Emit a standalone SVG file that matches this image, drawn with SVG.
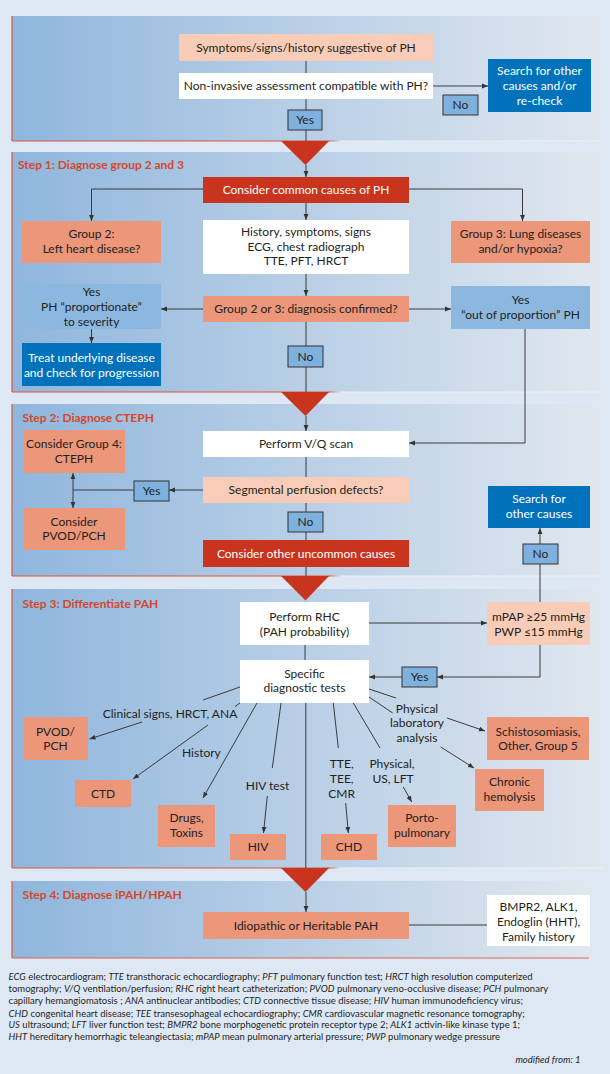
<svg xmlns="http://www.w3.org/2000/svg" width="610" height="1074" viewBox="0 0 610 1074">
<defs>
<style>
.t{font-family:Lato,"Open Sans","Liberation Sans",sans-serif;font-size:12px;fill:#231f20;text-anchor:middle}
.tw{fill:#ffffff}
.step{font-weight:bold;fill:#d4472b;text-anchor:start}
.fn{font-family:Lato,"Open Sans","Liberation Sans",sans-serif;font-size:9.5px;fill:#231f20}
.i{font-style:italic}
.peach{fill:#f8ccb6}
.salmon{fill:#ec967a}
.red{fill:#c8341e}
.blue{fill:#0072bc}
.lb{fill:#8cb8e0}
.wh{fill:#ffffff}
.yn{fill:#7fb1df;stroke:#333333;stroke-width:1}
.ln{fill:none;stroke:#3a3a3a;stroke-width:1}
.arr{marker-end:url(#ah)}
.panel{fill:url(#pg)}
.lborder{stroke:#d9573c;stroke-width:1.2;fill:none}
.bborder{stroke:url(#bg);stroke-width:1.2;fill:none}
.tri{fill:#c8341e}
</style>
<linearGradient id="pg" x1="0" y1="0" x2="1" y2="0">
<stop offset="0" stop-color="#8fb6dd"/>
<stop offset="0.5" stop-color="#b9cfe6"/>
<stop offset="1" stop-color="#e0e7ef"/>
</linearGradient>
<linearGradient id="bg" gradientUnits="userSpaceOnUse" x1="12" y1="0" x2="600" y2="0">
<stop offset="0" stop-color="#d9573c"/>
<stop offset="0.54" stop-color="#d9573c"/>
<stop offset="0.56" stop-color="#eaf0f6"/>
<stop offset="1" stop-color="#eaf0f6"/>
</linearGradient>
<marker id="ah" viewBox="0 0 10 10" refX="10" refY="5" markerWidth="6" markerHeight="6" orient="auto" markerUnits="userSpaceOnUse">
<path d="M0 1 L10 5 L0 9 z" fill="#333333"/>
</marker>
</defs>

<rect x="0" y="0" width="610" height="1074" fill="#dee8f4"/>

<g id="panels">
<rect class="panel" x="12" y="16" width="588" height="125"/>
<path class="lborder" d="M12 16 V141"/>
<path class="bborder" d="M12 141 H600"/>
<rect class="panel" x="12" y="152" width="588" height="240"/>
<path class="lborder" d="M12 152 V392"/>
<path class="bborder" d="M12 392 H600"/>
<rect class="panel" x="12" y="404" width="588" height="172"/>
<path class="lborder" d="M12 404 V576"/>
<path class="bborder" d="M12 576 H600"/>
<rect class="panel" x="12" y="589" width="591" height="279"/>
<path class="lborder" d="M12 589 V868"/>
<path class="bborder" d="M12 868 H603"/>
<rect class="panel" x="12" y="881" width="577" height="77"/>
<path class="lborder" d="M12 881 V958"/>
<path d="M12 958 H589" stroke="#d9664d" stroke-width="1.2" fill="none"/>
<text class="t step" x="18" y="168.5">Step 1: Diagnose group 2 and 3</text>
<text class="t step" x="22.6" y="422">Step 2: Diagnose CTEPH</text>
<text class="t step" x="22.6" y="608">Step 3: Differentiate PAH</text>
<text class="t step" x="22.6" y="899">Step 4: Diagnose iPAH/HPAH</text>
</g>

<g id="connectors">
<path class="ln" d="M306 61 V73"/>
<path class="ln arr" d="M433 86 H488"/>
<path class="ln" d="M306 99 V141"/>
<path class="ln arr" d="M306 165 V177"/>
<path class="ln arr" d="M203 189 H91.5 V221"/>
<path class="ln arr" d="M409 189 H522.5 V221"/>
<path class="ln arr" d="M306 203 V220"/>
<path class="ln arr" d="M306 274 V296"/>
<path class="ln arr" d="M203 309 H161"/>
<path class="ln arr" d="M409 309 H451"/>
<path class="ln arr" d="M91.5 329 V343"/>
<path class="ln" d="M306 322 V392"/>
<path class="ln arr" d="M525 329 V443 H409"/>
<path class="ln arr" d="M306 416 V431"/>
<path class="ln" d="M306 457 V477"/>
<path class="ln arr" d="M203 490 H169"/>
<path class="ln" d="M134 490 H73"/>
<path class="ln arr" d="M73 490 V473"/>
<path class="ln arr" d="M73 490 V508"/>
<path class="ln" d="M306 503 V540"/>
<path class="ln" d="M306 567 V576"/>
<path class="ln arr" d="M369 623 H487"/>
<path class="ln arr" d="M540 602 V528"/>
<path class="ln arr" d="M540 645 V677 H437"/>
<path class="ln arr" d="M402 677 H369"/>
<path class="ln" d="M305 645 V660"/>
<path class="ln" d="M305.8 703 V868"/>
<path class="ln" d="M240 687 L203 700"/>
<path class="ln arr" d="M142 722 L89.5 739"/>
<path class="ln" d="M240 703 L235 706.5"/>
<path class="ln arr" d="M208 725 L133 779"/>
<path class="ln arr" d="M257 703 L203 798"/>
<path class="ln" d="M281 703 L272.3 768"/>
<path class="ln arr" d="M267.3 796 L263.5 833"/>
<path class="ln" d="M333.3 703 L338.3 748"/>
<path class="ln arr" d="M345.7 803 L348.3 833"/>
<path class="ln" d="M353.3 703 L380 748"/>
<path class="ln arr" d="M403.3 787 L411.7 802"/>
<path class="ln" d="M369 689 L396 698"/>
<path class="ln" d="M369 697 L392.7 713"/>
<path class="ln arr" d="M447 718 L485 731"/>
<path class="ln arr" d="M440.7 747 L474 768"/>
<path class="ln arr" d="M306 892 V912"/>
<path class="ln" d="M409 925 H487"/>
</g>

<g id="arrows-between-steps">
<path class="tri" d="M281 141 H329 L305.5 165 z"/>
<path class="tri" d="M281 392 H329 L305.5 416 z"/>
<path class="tri" d="M281 576 H329 L305.5 600.5 z"/>
<path class="tri" d="M281 868 H329 L305.5 892 z"/>
</g>

<g id="n-sym"><rect class="peach" x="179" y="34" width="254" height="27"/><text class="t" x="306" y="51.5">Symptoms/signs/history suggestive of PH</text></g>
<g id="n-noninv"><rect class="wh" x="179" y="73" width="254" height="26"/><text class="t" x="306" y="90">Non-invasive assessment compatible with PH?</text></g>
<g id="n-search1"><rect class="blue" x="488" y="59" width="103" height="53"/><text class="t tw" x="539.5" y="74.5">Search for other</text><text class="t tw" x="539.5" y="89.5">causes and/or</text><text class="t tw" x="539.5" y="104.5">re-check</text></g>
<g id="n-no1"><rect class="yn" x="443" y="95" width="35" height="20"/><text class="t" x="460.5" y="109">No</text></g>
<g id="n-yes1"><rect class="yn" x="288" y="110" width="34" height="20"/><text class="t" x="305" y="124">Yes</text></g>

<g id="n-common"><rect class="red" x="203" y="177" width="206" height="26"/><text class="t tw" x="306" y="194">Consider common causes of PH</text></g>
<g id="n-g2"><rect class="salmon" x="22" y="221" width="139" height="42"/><text class="t" x="91.5" y="238">Group 2:</text><text class="t" x="91.5" y="253">Left heart disease?</text></g>
<g id="n-hist"><rect class="wh" x="203" y="220" width="206" height="54"/><text class="t" x="306" y="235.7">History, symptoms, signs</text><text class="t" x="306" y="250.7">ECG, chest radiograph</text><text class="t" x="306" y="265">TTE, PFT, HRCT</text></g>
<g id="n-g3"><rect class="salmon" x="451" y="221" width="139" height="42"/><text class="t" x="520.5" y="238">Group 3: Lung diseases</text><text class="t" x="520.5" y="253">and/or hypoxia?</text></g>
<g id="n-confirmed"><rect class="salmon" x="203" y="296" width="206" height="26"/><text class="t" x="306" y="313">Group 2 or 3: diagnosis confirmed?</text></g>
<g id="n-prop"><rect class="lb" x="22" y="284" width="139" height="45"/><text class="t" x="91.5" y="295.7">Yes</text><text class="t" x="91.5" y="310.7">PH “proportionate”</text><text class="t" x="91.5" y="325.7">to severity</text></g>
<g id="n-treat"><rect class="blue" x="22" y="343" width="139" height="43"/><text class="t tw" x="91.5" y="362.3">Treat underlying disease</text><text class="t tw" x="91.5" y="376.7">and check for progression</text></g>
<g id="n-outprop"><rect class="lb" x="451" y="286" width="139" height="43"/><text class="t" x="520.5" y="304">Yes</text><text class="t" x="520.5" y="319">“out of proportion” PH</text></g>
<g id="n-no2"><rect class="yn" x="288" y="346" width="35" height="21"/><text class="t" x="305.5" y="360.5">No</text></g>

<g id="n-vq"><rect class="wh" x="203" y="431" width="206" height="26"/><text class="t" x="306" y="448">Perform V/Q scan</text></g>
<g id="n-seg"><rect class="peach" x="203" y="477" width="206" height="26"/><text class="t" x="306" y="494">Segmental perfusion defects?</text></g>
<g id="n-yes2"><rect class="yn" x="134" y="481" width="35" height="20"/><text class="t" x="151.5" y="494.7">Yes</text></g>
<g id="n-g4"><rect class="salmon" x="23" y="430" width="102" height="43"/><text class="t" x="74" y="447.7">Consider Group 4:</text><text class="t" x="74" y="463">CTEPH</text></g>
<g id="n-pvod1"><rect class="salmon" x="23" y="508" width="102" height="42"/><text class="t" x="74" y="525.7">Consider</text><text class="t" x="74" y="539.7">PVOD/PCH</text></g>
<g id="n-no3"><rect class="yn" x="288" y="512" width="35" height="20"/><text class="t" x="305.5" y="526.3">No</text></g>
<g id="n-uncommon"><rect class="red" x="203" y="540" width="206" height="27"/><text class="t tw" x="306" y="557.7">Consider other uncommon causes</text></g>
<g id="n-search2"><rect class="blue" x="488" y="486" width="102" height="42"/><text class="t tw" x="539" y="503">Search for</text><text class="t tw" x="539" y="518">other causes</text></g>
<g id="n-no4"><rect class="yn" x="523" y="544" width="35" height="20"/><text class="t" x="540.5" y="558">No</text></g>

<g id="n-rhc"><rect class="wh" x="240" y="602" width="129" height="43"/><text class="t" x="304.5" y="620.7">Perform RHC</text><text class="t" x="304.5" y="635.7">(PAH probability)</text></g>
<g id="n-mpap"><rect class="peach" x="487" y="602" width="103" height="43"/><text class="t" x="538.5" y="620.7">mPAP ≥25 mmHg</text><text class="t" x="538.5" y="636.3">PWP ≤15 mmHg</text></g>
<g id="n-yes3"><rect class="yn" x="402" y="667" width="35" height="20"/><text class="t" x="419.5" y="681">Yes</text></g>
<g id="n-spec"><rect class="wh" x="240" y="660" width="129" height="43"/><text class="t" x="304.5" y="678">Specific</text><text class="t" x="304.5" y="692.3">diagnostic tests</text></g>

<g id="labels">
<text class="t" x="170" y="717.7">Clinical signs, HRCT, ANA</text>
<text class="t" x="201.4" y="756.7">History</text>
<text class="t" x="267.5" y="790">HIV test</text>
<text class="t" x="341.7" y="767.7">TTE,</text>
<text class="t" x="341.7" y="783.3">TEE,</text>
<text class="t" x="341.7" y="798.3">CMR</text>
<text class="t" x="392" y="767.7">Physical,</text>
<text class="t" x="393" y="783">US, LFT</text>
<text class="t" x="417" y="713">Physical</text>
<text class="t" x="417" y="727.3">laboratory</text>
<text class="t" x="417" y="742.3">analysis</text>
</g>

<g id="n-pvod2"><rect class="salmon" x="23" y="717" width="65" height="43"/><text class="t" x="55.5" y="735.7">PVOD/</text><text class="t" x="55.5" y="749.7">PCH</text></g>
<g id="n-ctd"><rect class="salmon" x="75" y="780" width="56" height="27"/><text class="t" x="103" y="797.7">CTD</text></g>
<g id="n-drugs"><rect class="salmon" x="158" y="805" width="57" height="42"/><text class="t" x="186.5" y="822.3">Drugs,</text><text class="t" x="186.5" y="837.3">Toxins</text></g>
<g id="n-hiv"><rect class="salmon" x="230" y="834" width="56" height="26"/><text class="t" x="258" y="851">HIV</text></g>
<g id="n-chd"><rect class="salmon" x="321" y="834" width="56" height="26"/><text class="t" x="349" y="851">CHD</text></g>
<g id="n-porto"><rect class="salmon" x="388" y="805" width="68" height="42"/><text class="t" x="422" y="822.3">Porto-</text><text class="t" x="422" y="837.3">pulmonary</text></g>
<g id="n-schisto"><rect class="salmon" x="487" y="717" width="102" height="43"/><text class="t" x="538" y="735.7">Schistosomiasis,</text><text class="t" x="538" y="749.7">Other, Group 5</text></g>
<g id="n-chronic"><rect class="salmon" x="475" y="769" width="69" height="42"/><text class="t" x="509.5" y="786.3">Chronic</text><text class="t" x="509.5" y="801.3">hemolysis</text></g>

<g id="n-idio"><rect class="salmon" x="203" y="912" width="206" height="27"/><text class="t" x="306" y="930">Idiopathic or Heritable PAH</text></g>
<g id="n-bmpr"><rect class="wh" x="487" y="895" width="103" height="51"/><text class="t" x="538.5" y="910.7">BMPR2, ALK1,</text><text class="t" x="538.5" y="925.7">Endoglin (HHT),</text><text class="t" x="538.5" y="940.7">Family history</text></g>

<g id="footnote">
<text class="fn" x="8.6" y="980"><tspan class="i">ECG</tspan> electrocardiogram; <tspan class="i">TTE</tspan> transthoracic echocardiography; <tspan class="i">PFT</tspan> pulmonary function test; <tspan class="i">HRCT</tspan> high resolution computerized</text>
<text class="fn" x="8.6" y="992">tomography; <tspan class="i">V/Q</tspan> ventilation/perfusion; <tspan class="i">RHC</tspan> right heart catheterization; <tspan class="i">PVOD</tspan> pulmonary veno-occlusive disease; <tspan class="i">PCH</tspan> pulmonary</text>
<text class="fn" x="8.6" y="1004">capillary hemangiomatosis ; <tspan class="i">ANA</tspan> antinuclear antibodies; <tspan class="i">CTD</tspan> connective tissue disease; <tspan class="i">HIV</tspan> human immunodeficiency virus;</text>
<text class="fn" x="8.6" y="1016.5"><tspan class="i">CHD</tspan> congenital heart disease; <tspan class="i">TEE</tspan> transesophageal echocardiography; <tspan class="i">CMR</tspan> cardiovascular magnetic resonance tomography;</text>
<text class="fn" x="8.6" y="1028"><tspan class="i">US</tspan> ultrasound; <tspan class="i">LFT</tspan> liver function test; <tspan class="i">BMPR2</tspan> bone morphogenetic protein receptor type 2; <tspan class="i">ALK1</tspan> activin-like kinase type 1;</text>
<text class="fn" x="8.6" y="1040"><tspan class="i">HHT</tspan> hereditary hemorrhagic teleangiectasia; <tspan class="i">mPAP</tspan> mean pulmonary arterial pressure; <tspan class="i">PWP</tspan> pulmonary wedge pressure</text>
<text class="fn i" x="580.5" y="1063" text-anchor="end">modified from: 1</text>
</g>
</svg>
